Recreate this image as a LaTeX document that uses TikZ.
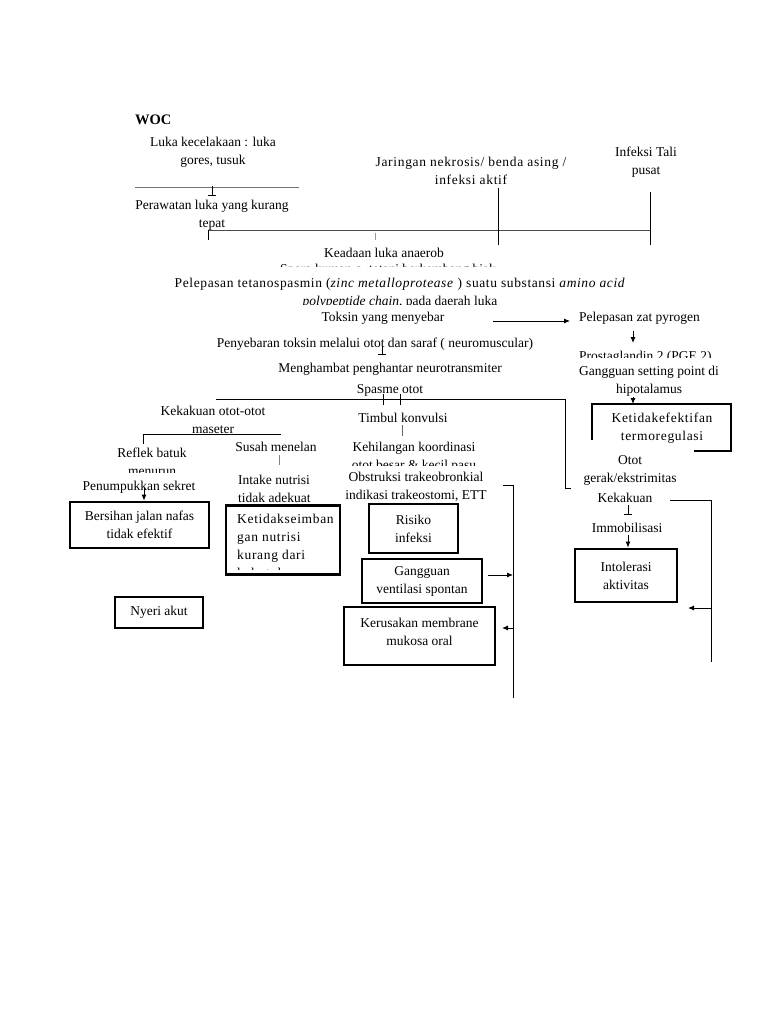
\documentclass[tikz,border=0pt]{standalone}
\usepackage{fontspec}
\setmainfont{Liberation Serif}
\usetikzlibrary{arrows.meta}
\begin{document}
\begin{tikzpicture}[x=1pt,y=-1pt,
  txt/.style={inner sep=0pt, font=\fontsize{13.5}{18}\selectfont, align=center},
  wide/.style={font=\fontsize{13.5}{18}\selectfont\addfontfeature{LetterSpace=5}},
  box/.style={draw, line width=2.8pt, inner sep=0pt},
  ln/.style={line width=0.9pt},
  gln/.style={line width=0.9pt, black!70},
  arr/.style={line width=0.9pt, -{Latex[length=6pt,width=5pt]}},
  tbar/.style={line width=0.9pt, -{Bar[width=8pt,line width=1.2pt]}},
]
\useasboundingbox (0,0) rectangle (768,1024);
\fill[white] (0,0) rectangle (768,1024);

% ---- texts, top part
\node[txt, anchor=west, font=\fontsize{14.5}{18}\selectfont\bfseries] (woc) at (135,120) {WOC};
\node[txt] (luka) at (213,152) {Luka kecelakaan : luka\\gores, tusuk};
\node[txt] (rawat) at (212,215.5) {Perawatan luka yang kurang\\tepat};
\node[txt, wide] (jar) at (471,171) {Jaringan nekrosis/ benda asing /\\infeksi aktif};
\node[txt] (tali) at (646,162) {Infeksi Tali\\pusat};
\node[txt] (anaer) at (384,253) {Keadaan luka anaerob};
\begin{scope}
  \clip (0,0) rectangle (768,266);
  \node[txt] (spora) at (388,270) {Spora kuman c. tetani berkembang biak};
\end{scope}
\node[txt, font=\fontsize{13.5}{18}\selectfont\addfontfeature{LetterSpace=4.5}] (lepas) at (400,284) {Pelepasan tetanospasmin (\textit{zinc metalloprotease} ) suatu substansi \textit{amino acid}};
\begin{scope}
  \clip (0,291) rectangle (768,304);
  \node[txt] (poly) at (400,302) {\textit{polypeptide chain}, pada daerah luka};
\end{scope}
\node[txt] (toksin) at (383,318) {Toksin yang menyebar};
\node[txt, anchor=west] (pyro) at (579,318) {Pelepasan zat pyrogen};
\begin{scope}
  \clip (560,340) rectangle (768,357);
  \node[txt, anchor=west] (pge) at (579,357) {Prostaglandin 2 (PGE 2)};
\end{scope}
\node[txt] (setting) at (649,381) {Gangguan setting point di\\hipotalamus};
\node[txt, wide] (termo) at (662,428) {Ketidakefektifan\\termoregulasi};
\draw[line width=2.8pt] (592,440) -- (592,404) -- (731,404) -- (731,451) -- (694,451);

\node[txt] (sebar) at (375,344) {Penyebaran toksin melalui otot dan saraf ( neuromuscular)};
\node[txt] (hambat) at (390,369) {Menghambat penghantar neurotransmiter};
\node[txt] (spasme) at (390,390) {Spasme otot};

% ---- left branch
\node[txt] (maset) at (213,420) {Kekakuan otot-otot\\maseter};
\begin{scope}
  \clip (0,440) rectangle (230,472);
  \node[txt] (reflek) at (152,462) {Reflek batuk\\menurun};
\end{scope}
\node[txt] (susah) at (276,447) {Susah menelan};
\node[txt, align=left, anchor=west] (intake) at (238,489) {Intake nutrisi\\tidak adekuat};
\node[txt] (sekret) at (139,487) {Penumpukkan sekret};
\node[box, txt, minimum width=139, minimum height=46] (bjn) at (139.5,525) {Bersihan jalan nafas\\tidak efektif};
\node[box, minimum width=114, minimum height=69] (nutbox) at (283,540) {};
\begin{scope}
  \clip (230,505) rectangle (338,569);
  \node[txt, wide, align=left, anchor=north west] (nut) at (237,514) {Ketidakseimban\\gan nutrisi\\kurang dari\\kebutuhan};
\end{scope}
\node[box, txt, minimum width=88, minimum height=31] (nyeri) at (159,612.5) {Nyeri akut};

% ---- middle branch
\node[txt] (konv) at (403,418) {Timbul konvulsi};
\begin{scope}
  \clip (330,430) rectangle (500,465.5);
  \node[txt] (koord) at (414,457) {Kehilangan koordinasi\\otot besar \& kecil pasu};
\end{scope}
\node[txt] (obst) at (416,487) {Obstruksi trakeobronkial\\indikasi trakeostomi, ETT};
\node[box, txt, minimum width=89, minimum height=49] (risiko) at (413.5,528.5) {Risiko\\infeksi};
\node[box, txt, minimum width=120, minimum height=44] (vent) at (422,581) {Gangguan\\ventilasi spontan};
\node[box, minimum width=151, minimum height=58] (mukbox) at (419.5,636) {};
\node[txt] (muk) at (419.5,632) {Kerusakan membrane\\mukosa oral};

% ---- right branch
\node[txt] (otot) at (630,470) {Otot\\gerak/ekstrimitas};
\node[txt] (kaku) at (625,498) {Kekakuan};
\node[txt] (immo) at (627,528) {Immobilisasi};
\node[box, txt, minimum width=102, minimum height=53] (intol) at (626,575.5) {Intolerasi\\aktivitas};

% ---- coordinates for connectors
\coordinate (c1a) at (135,187); \coordinate (c1b) at (299,187);
\coordinate (t1) at (212,186);
\coordinate (h2a) at (208,230); \coordinate (h2b) at (650,230);
\coordinate (vj) at (498,188); \coordinate (vt) at (650,192);
\coordinate (ar1) at (493,321); \coordinate (ar1e) at (570,321);
\coordinate (ar2) at (633,331);
\coordinate (ar3) at (633,397);
\coordinate (t2) at (382,346);
\coordinate (sp1) at (216,399); \coordinate (sp2) at (565,399); \coordinate (sp3) at (565,488);
\coordinate (ma1) at (143,434); \coordinate (ma2) at (281,434);
\coordinate (sn) at (279,455);
\coordinate (ps) at (144,488);
\coordinate (kv) at (402,425);
\coordinate (br1) at (503,485); \coordinate (br2) at (513,485); \coordinate (br3) at (513,698);
\coordinate (rk1) at (670,500); \coordinate (rk2) at (711,500); \coordinate (rk3) at (711,662);
\coordinate (kk) at (628,505);
\coordinate (im) at (628,535);

% ---- connectors
\draw[line width=0.8pt, black!55] (c1a) -- (c1b);
\draw[tbar] (t1) -- ++(0,10);
\draw[gln] (h2a) -- (h2b);
\draw[ln] (h2a) -- ++(0,10);
\draw[line width=0.6pt, black!40] (375,233) -- (375,240);
\draw[ln] (vj) -- (vj |- 0,245);
\draw[ln] (vt) -- (vt |- 0,245);
\draw[arr] (ar1) -- (ar1e);
\draw[arr] (ar2) -- (ar2 |- 0,343);
\draw[arr] (ar3) -- (ar3 |- 0,404);
\draw[tbar] (t2) -- ++(0,9);
\draw[ln] (sp1) -- (sp2) -- (sp3) -- ++(6,0);
\draw[ln] (383,394) -- (383,405);
\draw[ln] (400,394) -- (400,405);
\draw[ln] (ma1) -- (ma2);
\draw[ln] (ma1) -- ++(0,10);
\draw[line width=0.6pt, black!50] (sn) -- ++(0,10);
\draw[arr] (ps) -- (ps |- bjn.north);
\draw[line width=0.6pt, black!60] (kv) -- ++(0,11);
\draw[ln] (br1) -- (br2) -- (br3);
\draw[arr] (vent.east |- 0,575) ++(5,0) -- (br2 |- 0,575);
\draw[arr] (br2 |- 0,628) -- ++(-11,0);
\draw[ln] (rk1) -- (rk2) -- (rk3);
\draw[arr] (rk2 |- 0,608) -- ++(-23,0);
\draw[tbar] (kk) -- ++(0,10);
\draw[arr] (im) -- (im |- intol.north);
\end{tikzpicture}
\end{document}
